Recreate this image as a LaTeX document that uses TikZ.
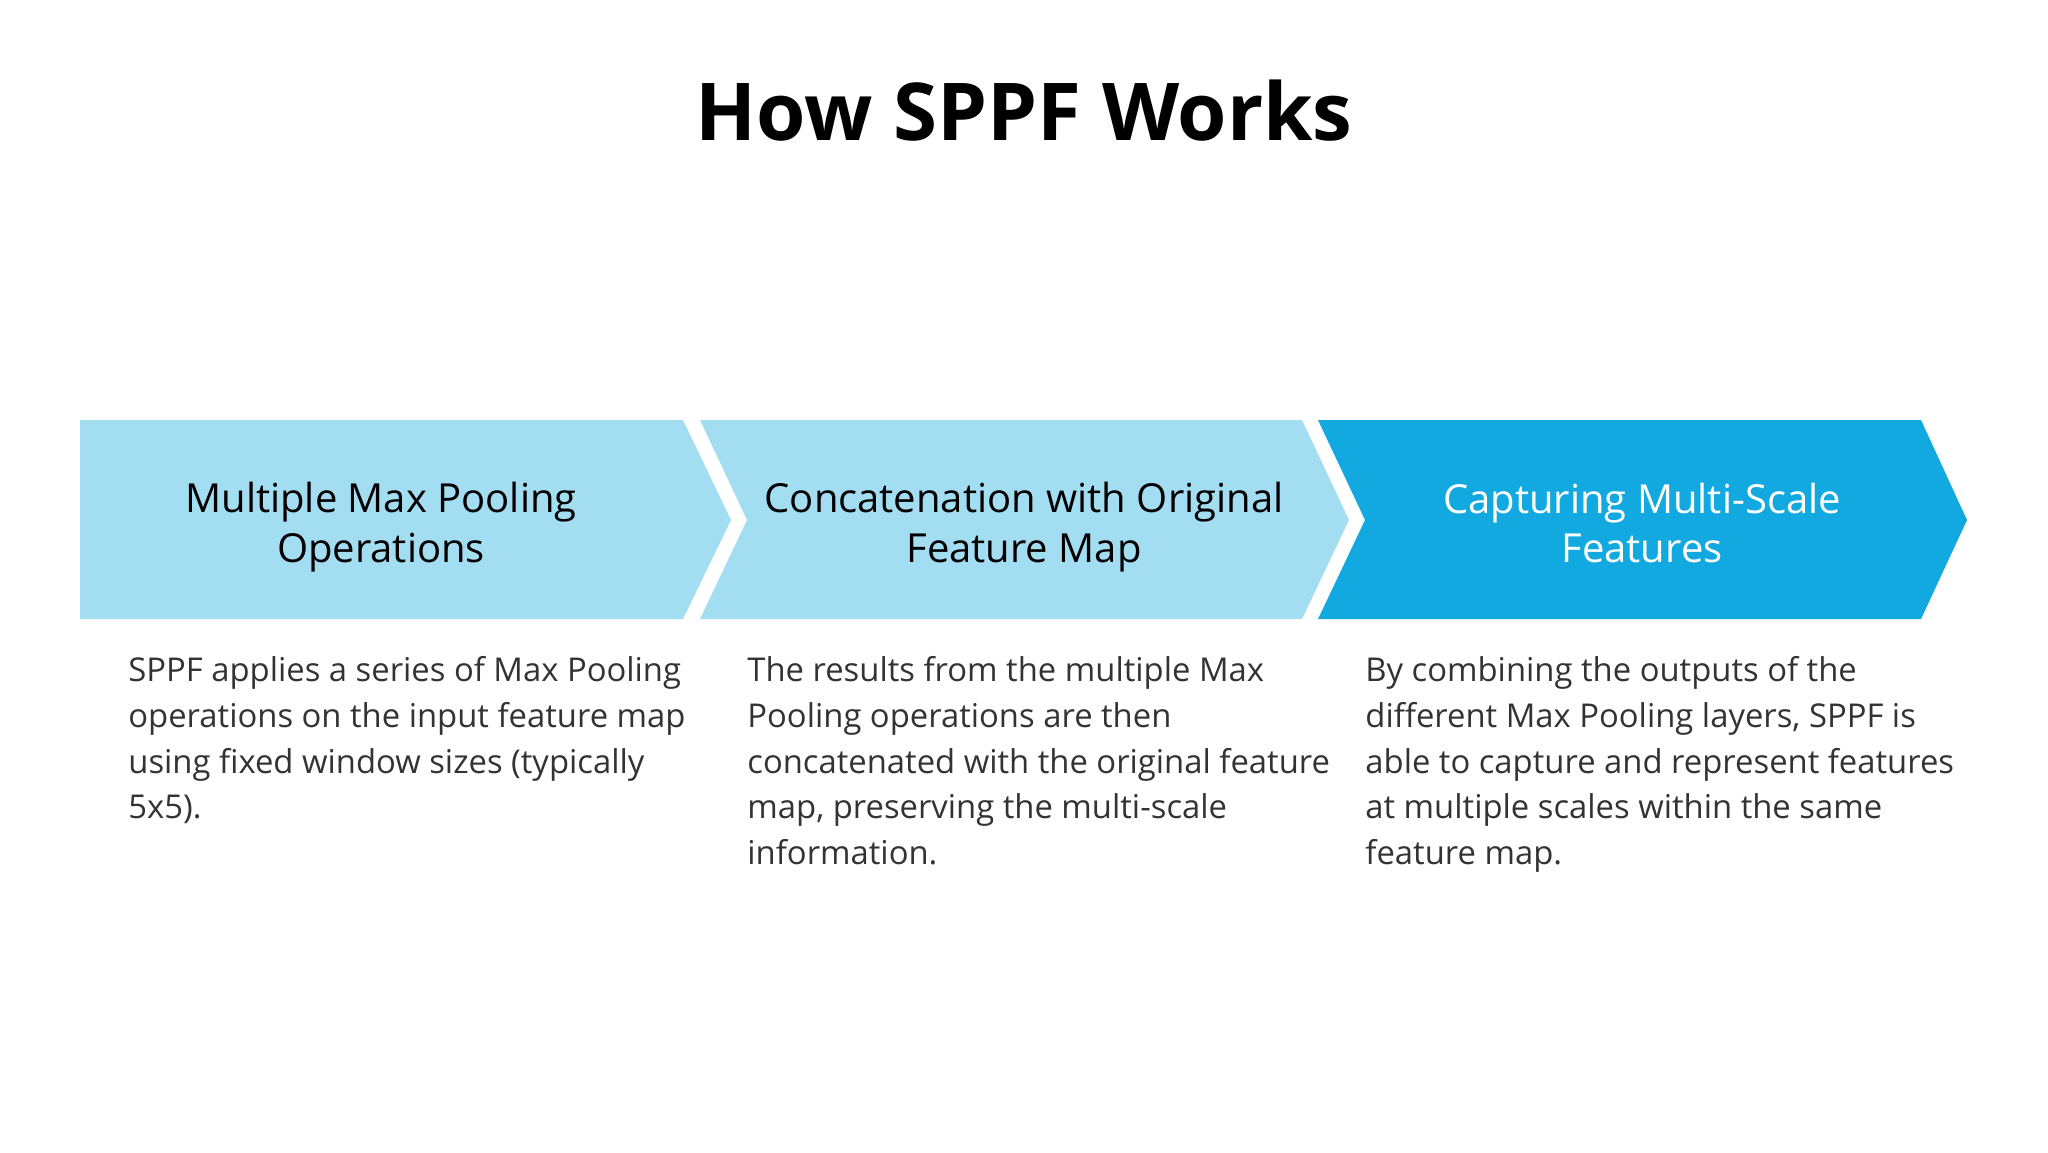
\documentclass[tikz,border=0pt]{standalone}
\usepackage{fontspec}
\setmainfont{Open Sans}
\definecolor{paleblue}{HTML}{A3DDF2}
\definecolor{deepblue}{HTML}{12A9E0}
\definecolor{bodygray}{HTML}{333333}
\begin{document}
\begin{tikzpicture}[x=0.5pt,y=-0.5pt,
  head/.style={font=\fontsize{20}{24.8}\selectfont,align=center},
  desc/.style={font=\fontsize{16.4}{22.9}\selectfont,align=left,anchor=north west,inner sep=0pt,text=bodygray}]
\useasboundingbox (0,0) rectangle (2048,1152);
\node[font=\fontsize{39.9}{47}\selectfont\bfseries,anchor=base] (title) at (1024,140) {How SPPF Works};
% the three steps
\fill[paleblue] (80,420)--(683,420)--(731,520)--(683,619)--(80,619)--cycle;
\fill[paleblue] (700,420)--(1302,420)--(1349,520)--(1302,619)--(700,619)--(747,520)--cycle;
\fill[deepblue] (1318,420)--(1921,420)--(1967,520)--(1921,619)--(1318,619)--(1365,520)--cycle;
\node[head] (stepA) at (381,527) {Multiple Max Pooling\\Operations};
\node[head] (stepB) at (1024,527) {Concatenation with Original\\Feature Map};
\node[head,text=white] (stepC) at (1642,523) {Capturing Multi-Scale\\Features};
% descriptions
\node[desc] (descA) at (128,656) {SPPF applies a series of Max Pooling\\operations on the input feature map\\using fixed window sizes (typically\\5x5).};
\node[desc] (descB) at (747,656) {The results from the multiple Max\\Pooling operations are then\\concatenated with the original feature\\map, preserving the multi-scale\\information.};
\node[desc] (descC) at (1365,656) {By combining the outputs of the\\different Max Pooling layers, SPPF is\\able to capture and represent features\\at multiple scales within the same\\feature map.};
\end{tikzpicture}
\end{document}
